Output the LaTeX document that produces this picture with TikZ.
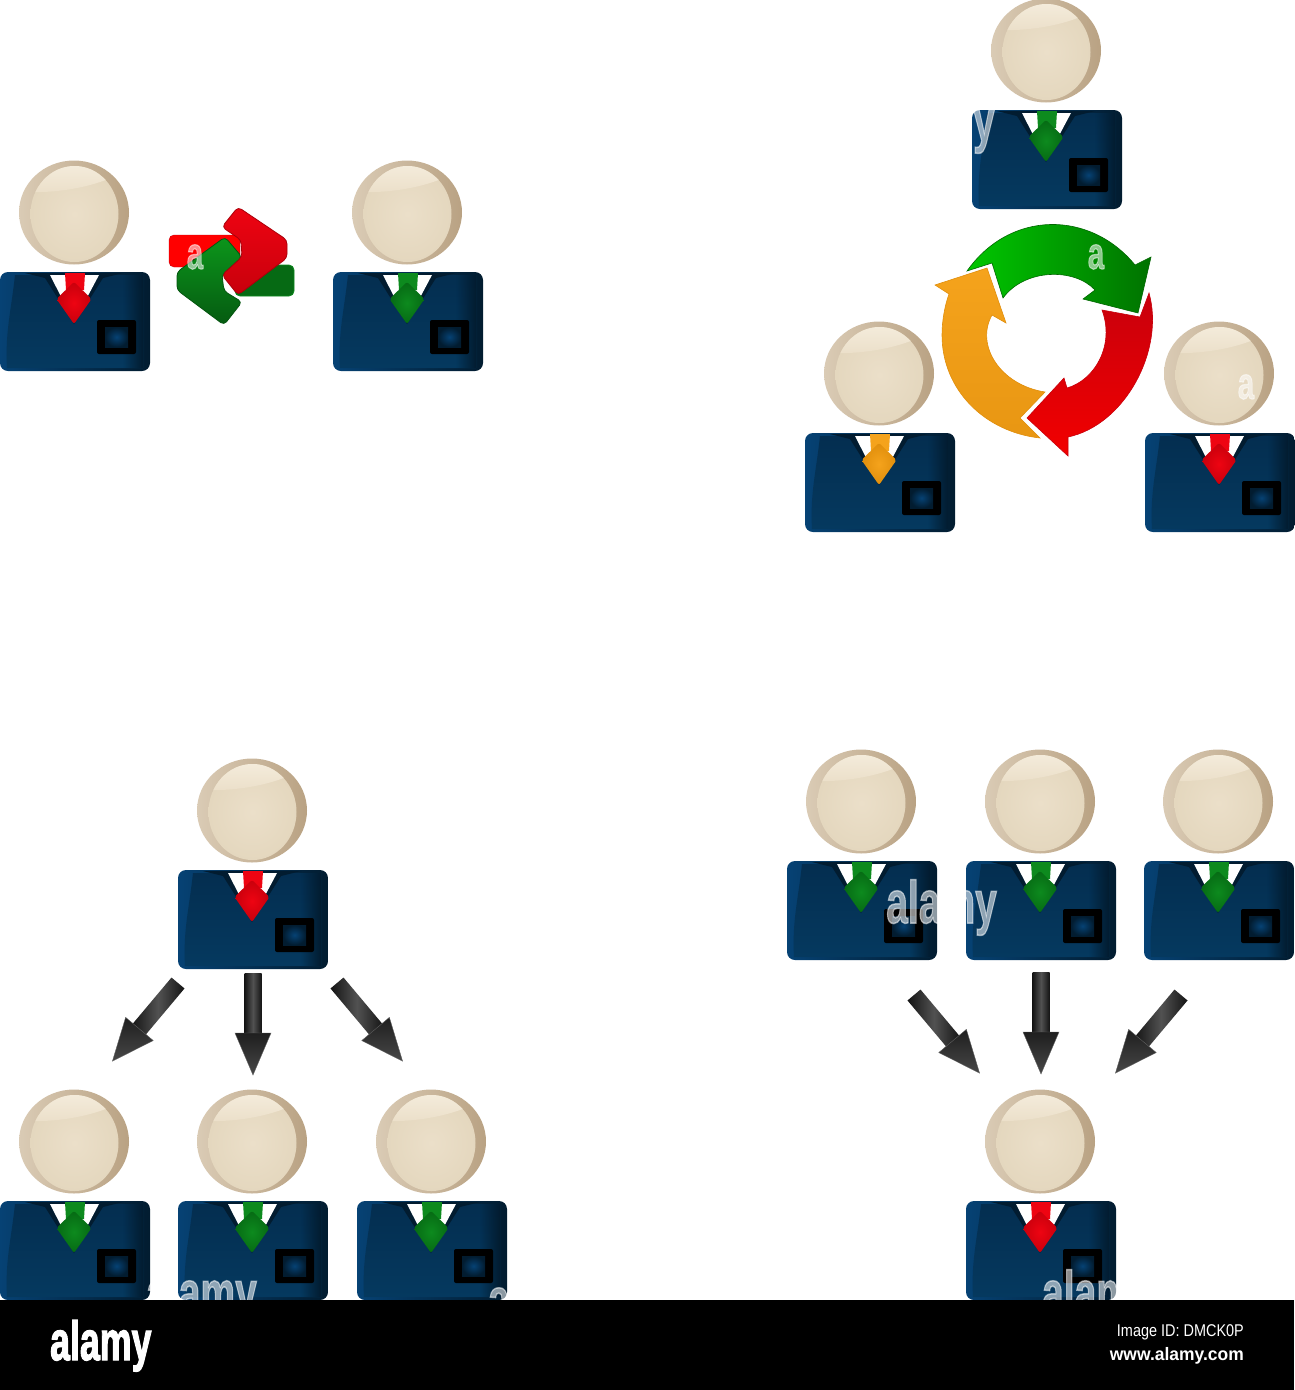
\documentclass[tikz,border=0pt]{standalone}
\usepackage{fontspec}
\setmainfont{Liberation Sans}
\newfontfamily\heavyfont[FakeBold=2.5]{Liberation Sans}
\usetikzlibrary{arrows.meta,fadings}
\definecolor{suitlight}{HTML}{064274}
\definecolor{suit}{HTML}{05395F}
\definecolor{suitmid}{HTML}{042E50}
\definecolor{suitdeep}{HTML}{021C30}
\definecolor{headrim}{HTML}{DACBB5}
\definecolor{headedge}{HTML}{B9A283}
\definecolor{headface}{HTML}{E4D7BE}
\definecolor{headglow}{HTML}{EBDFC9}
\definecolor{headshine}{HTML}{F5EDDD}
\definecolor{redtie}{HTML}{EE0412}
\definecolor{reddark}{HTML}{C8000C}
\definecolor{greentie}{HTML}{0D8A1E}
\definecolor{greendark}{HTML}{066A14}
\definecolor{orangetie}{HTML}{F5A31C}
\definecolor{orangedark}{HTML}{E08E0C}
\tikzset{
  pics/person/.style 2 args={code={
    % head
    \shade[left color=headrim,right color=headedge] (-1,-59.5) ellipse (55 and 52);
    \shade[inner color=headglow,outer color=headface] (-.5,-58) ellipse (44 and 48);
    \begin{scope}
      \clip (-.5,-58) ellipse (44 and 48);
      \shade[top color=headshine,bottom color=headglow] (-46,-80) .. controls (-20,-79) and (15,-84) .. (40,-96) -- (40,-110) -- (-46,-110) -- cycle;
    \end{scope}
    % jacket
    \shade[rounded corners=8,left color=suitlight,middle color=suit,right color=suitdeep] (-75,0) rectangle (75,99);
    \shade[top color=suitmid,bottom color=suit] (-60,3) .. controls (-64,40) and (-70,60) .. (-68,96) -- (68,96) -- (68,3) -- cycle;
    \fill[suitdeep,path fading=west] (48,3) rectangle (68,96);
    \fill[suitdeep] (-50,1) -- (48,1) -- (28,6) -- (-1,52) -- (-30,6) -- cycle;
    \fill[white] (-25,3) -- (24,3) -- (-1,50) -- cycle;
    % tie
    \fill[#1] (-10,1) -- (10,1) -- (9,18) -- (-9,18) -- cycle;
    \shade[inner color=#1,outer color=#2,rounded corners=2] (-1,10) -- (16.5,27) -- (-1,52) -- (-18.5,27) -- cycle;
    % pocket
    \fill[black,rounded corners=2] (22,48) rectangle (61,82);
    \shade[inner color=suitlight,outer color=suitdeep] (30,55) rectangle (53,75);
  }},
  pics/blockarrow/.style={code={
    \shade[left color=black!92,right color=black!92,middle color=black!68] (-8.5,0) rectangle (8.5,62);
    \shade[top color=black!88,bottom color=black!72,draw=black!62] (-18,60) -- (18,60) -- (0,102) -- cycle;
  }},
  wmark/.style={white,opacity=.55,inner sep=0pt,font=\heavyfont\bfseries\fontsize{60}{60}\selectfont,transform shape,xscale=.65},
  wsmall/.style={white,opacity=.55,font=\heavyfont\bfseries\fontsize{45}{45}\selectfont,transform shape,xscale=.65},
  footer/.style={white,anchor=east,inner sep=0pt,transform shape}
}
\begin{document}
\begin{tikzpicture}[x=1pt,y=-1pt]
  \useasboundingbox (0,0) rectangle (1294,1390);

  % one to one
  \pic at (75,272) {person={redtie}{reddark}};
  \pic at (408,272) {person={greentie}{greendark}};
  \fill[red,draw=reddark,rounded corners=5] (169,235) rectangle (240,267);
  \fill[greendark,draw=greentie,thick,rounded corners=5] (235,265) rectangle (294,296);
  \shade[top color=greentie!90!green,bottom color=greendark!85!black,draw=greendark!80!black,thick,rounded corners=4] (225,237) -- (242,257) -- (222,275) -- (224,291) -- (242,302) -- (224,325) -- (177,290) -- (177,272) -- cycle;
  \shade[top color=redtie,bottom color=reddark,draw=reddark!85!black,thick,rounded corners=4] (238,207) -- (287,240) -- (287,258) -- (238,295) -- (222,275) -- (242,257) -- (241,240) -- (222,227) -- cycle;

  % cycle
  \pic at (1047,110) {person={greentie}{greendark}};
  \pic at (880,433) {person={orangetie}{orangedark}};
  \pic at (1220,433) {person={redtie}{reddark}};
  \shade[left color=green!78!black,right color=green!45!black,draw=green!40!black,line width=.6pt]
    (967,271) .. controls (1010,210) and (1090,210) .. (1135,265) -- (1151,257) -- (1138,313) -- (1083,299) -- (1095,290)
    .. controls (1075,268) and (1025,268) .. (1003,298) -- (992,263) -- cycle;
  \shade[top color=reddark,bottom color=red!95!black,draw=reddark,line width=.6pt]
    (1149,293) .. controls (1165,350) and (1125,425) .. (1068,437) -- (1068,456) -- (1027,418) -- (1064,378) -- (1067,388)
    .. controls (1095,380) and (1115,345) .. (1102,310) -- (1140,317) -- cycle;
  \shade[top color=orangetie,bottom color=orangedark!60!orangetie,draw=orangedark,line width=.6pt]
    (935,285) -- (987,268) -- (1006,323) -- (992,315) .. controls (975,345) and (1000,385) .. (1045,392) -- (1020,418) -- (1040,438)
    .. controls (985,432) and (942,390) .. (942,335) .. controls (942,320) and (945,305) .. (949,294) -- cycle;

  % one to many
  \pic at (253,870) {person={redtie}{reddark}};
  \pic at (75,1201) {person={greentie}{greendark}};
  \pic at (253,1201) {person={greentie}{greendark}};
  \pic at (432,1201) {person={greentie}{greendark}};
  \pic[rotate=-40] at (178,983) {blockarrow};
  \pic at (253,973) {blockarrow};
  \pic[rotate=40] at (337,983) {blockarrow};

  % many to one
  \pic at (862,861) {person={greentie}{greendark}};
  \pic at (1041,861) {person={greentie}{greendark}};
  \pic at (1219,861) {person={greentie}{greendark}};
  \pic at (1041,1201) {person={redtie}{reddark}};
  \pic[rotate=40] at (914,995) {blockarrow};
  \pic at (1041,972) {blockarrow};
  \pic[rotate=-40] at (1181,995) {blockarrow};

  % stock marks over the picture
  \node[wsmall] (markone) at (195,257) {a};
  \node[wsmall] (marktwo) at (1096,257) {a};
  \node[wsmall] (markthree) at (1246,387) {a};
  \node[wmark,anchor=base east] (markfour) at (997,923) {alamy};
  \node[wmark,anchor=base east] (markfive) at (995,141) {alamy};
  \node[wmark,anchor=base east] (marksix) at (257,1313) {alamy};
  \node[wmark,anchor=base west] (markseven) at (1042,1313) {alamy};
  \node[wmark,anchor=base west] (markeight) at (488,1320) {a};

  % footer
  \fill[black] (0,1300) rectangle (1294,1390);
  \node[white,inner sep=0pt,anchor=base west,font=\heavyfont\bfseries\fontsize{55}{55}\selectfont,transform shape,xscale=.65] (brand) at (50,1360) {alamy};
  \node[footer,font=\fontsize{17}{17}\selectfont,xscale=.85] (imageid) at (1244,1332) {Image ID: DMCK0P};
  \node[footer,font=\bfseries\fontsize{18}{18}\selectfont,xscale=.97] (website) at (1244,1356) {www.alamy.com};
\end{tikzpicture}
\end{document}
